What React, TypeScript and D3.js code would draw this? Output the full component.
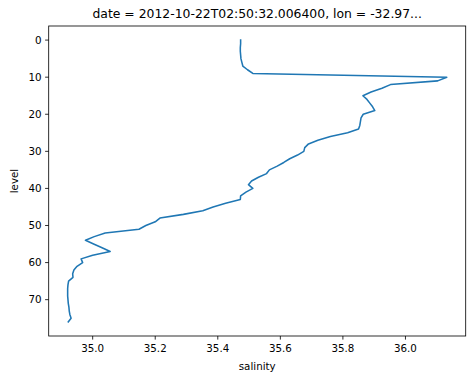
import React from "react";
import * as d3 from "d3";

const levels: number[] = Array.from({ length: 77 }, (_, i) => i);
const salinity: number[] = [
  35.473, 35.473, 35.472, 35.472, 35.473, 35.474, 35.477, 35.48, 35.495, 35.512,
  36.132, 36.103, 35.952, 35.925, 35.89, 35.864, 35.877, 35.886, 35.895, 35.902,
  35.865, 35.858, 35.856, 35.854, 35.85, 35.815, 35.76, 35.72, 35.69, 35.678,
  35.675, 35.655, 35.63, 35.611, 35.59, 35.565, 35.556, 35.53, 35.508, 35.498,
  35.512, 35.49, 35.473, 35.472, 35.425, 35.385, 35.352, 35.29, 35.215, 35.2,
  35.17, 35.148, 35.04, 35.005, 34.977, 35.003, 35.03, 35.056, 35.0, 34.963,
  34.968, 34.95, 34.94, 34.936, 34.937, 34.923, 34.921, 34.92, 34.92, 34.92,
  34.921, 34.922, 34.924, 34.925, 34.927, 34.931, 34.922,
];
const xTicks: number[] = [35.0, 35.2, 35.4, 35.6, 35.8, 36.0];
const yTicks: number[] = [0, 10, 20, 30, 40, 50, 60, 70];
const title = "date = 2012-10-22T02:50:32.006400, lon = -32.97...";

const W = 474, H = 381;
const L = 48.7, R = 465.7, T = 26, B = 336;

export default function App() {
  const xmin = d3.min(salinity)!, xmax = d3.max(salinity)!;
  const xm = (xmax - xmin) * 0.05;
  const x = d3.scaleLinear().domain([xmin - xm, xmax + xm]).range([L, R]);
  const ymin = 0, ymax = 76;
  const ym = (ymax - ymin) * 0.05;
  const y = d3.scaleLinear().domain([ymin - ym, ymax + ym]).range([T, B]);
  const line = d3.line<number>().x((d) => x(d)).y((_, i) => y(levels[i]));
  const font = "DejaVu Sans, sans-serif";
  return (
    <svg width={W} height={H} style={{ position: "absolute", left: 0, top: 0, background: "#fff" }}>
      <rect width={W} height={H} fill="#fff" />
      <text x={(L + R) / 2} y={18} textAnchor="middle" fontFamily={font} fontSize={12.4} fill="#000">{title}</text>
      <path d={line(salinity) || ""} fill="none" stroke="#1f77b4" strokeWidth={1.55} strokeLinejoin="round" strokeLinecap="square" />
      <rect x={L} y={T} width={R - L} height={B - T} fill="none" stroke="#000" strokeWidth={0.82} />
      {xTicks.map((t) => (
        <g key={"x" + t}>
          <line x1={x(t)} x2={x(t)} y1={B} y2={B + 3.6} stroke="#000" strokeWidth={0.82} />
          <text x={x(t)} y={B + 15.5} textAnchor="middle" fontFamily={font} fontSize={10.3} fill="#000">{t.toFixed(1)}</text>
        </g>
      ))}
      {yTicks.map((t) => (
        <g key={"y" + t}>
          <line x1={L - 3.6} x2={L} y1={y(t)} y2={y(t)} stroke="#000" strokeWidth={0.82} />
          <text x={L - 7.2} y={y(t) + 3.7} textAnchor="end" fontFamily={font} fontSize={10.3} fill="#000">{t}</text>
        </g>
      ))}
      <text x={(L + R) / 2} y={370} textAnchor="middle" fontFamily={font} fontSize={10.3} fill="#000">salinity</text>
      <text transform={`translate(17.5,${(T + B) / 2}) rotate(-90)`} textAnchor="middle" fontFamily={font} fontSize={10.3} fill="#000">level</text>
    </svg>
  );
}
